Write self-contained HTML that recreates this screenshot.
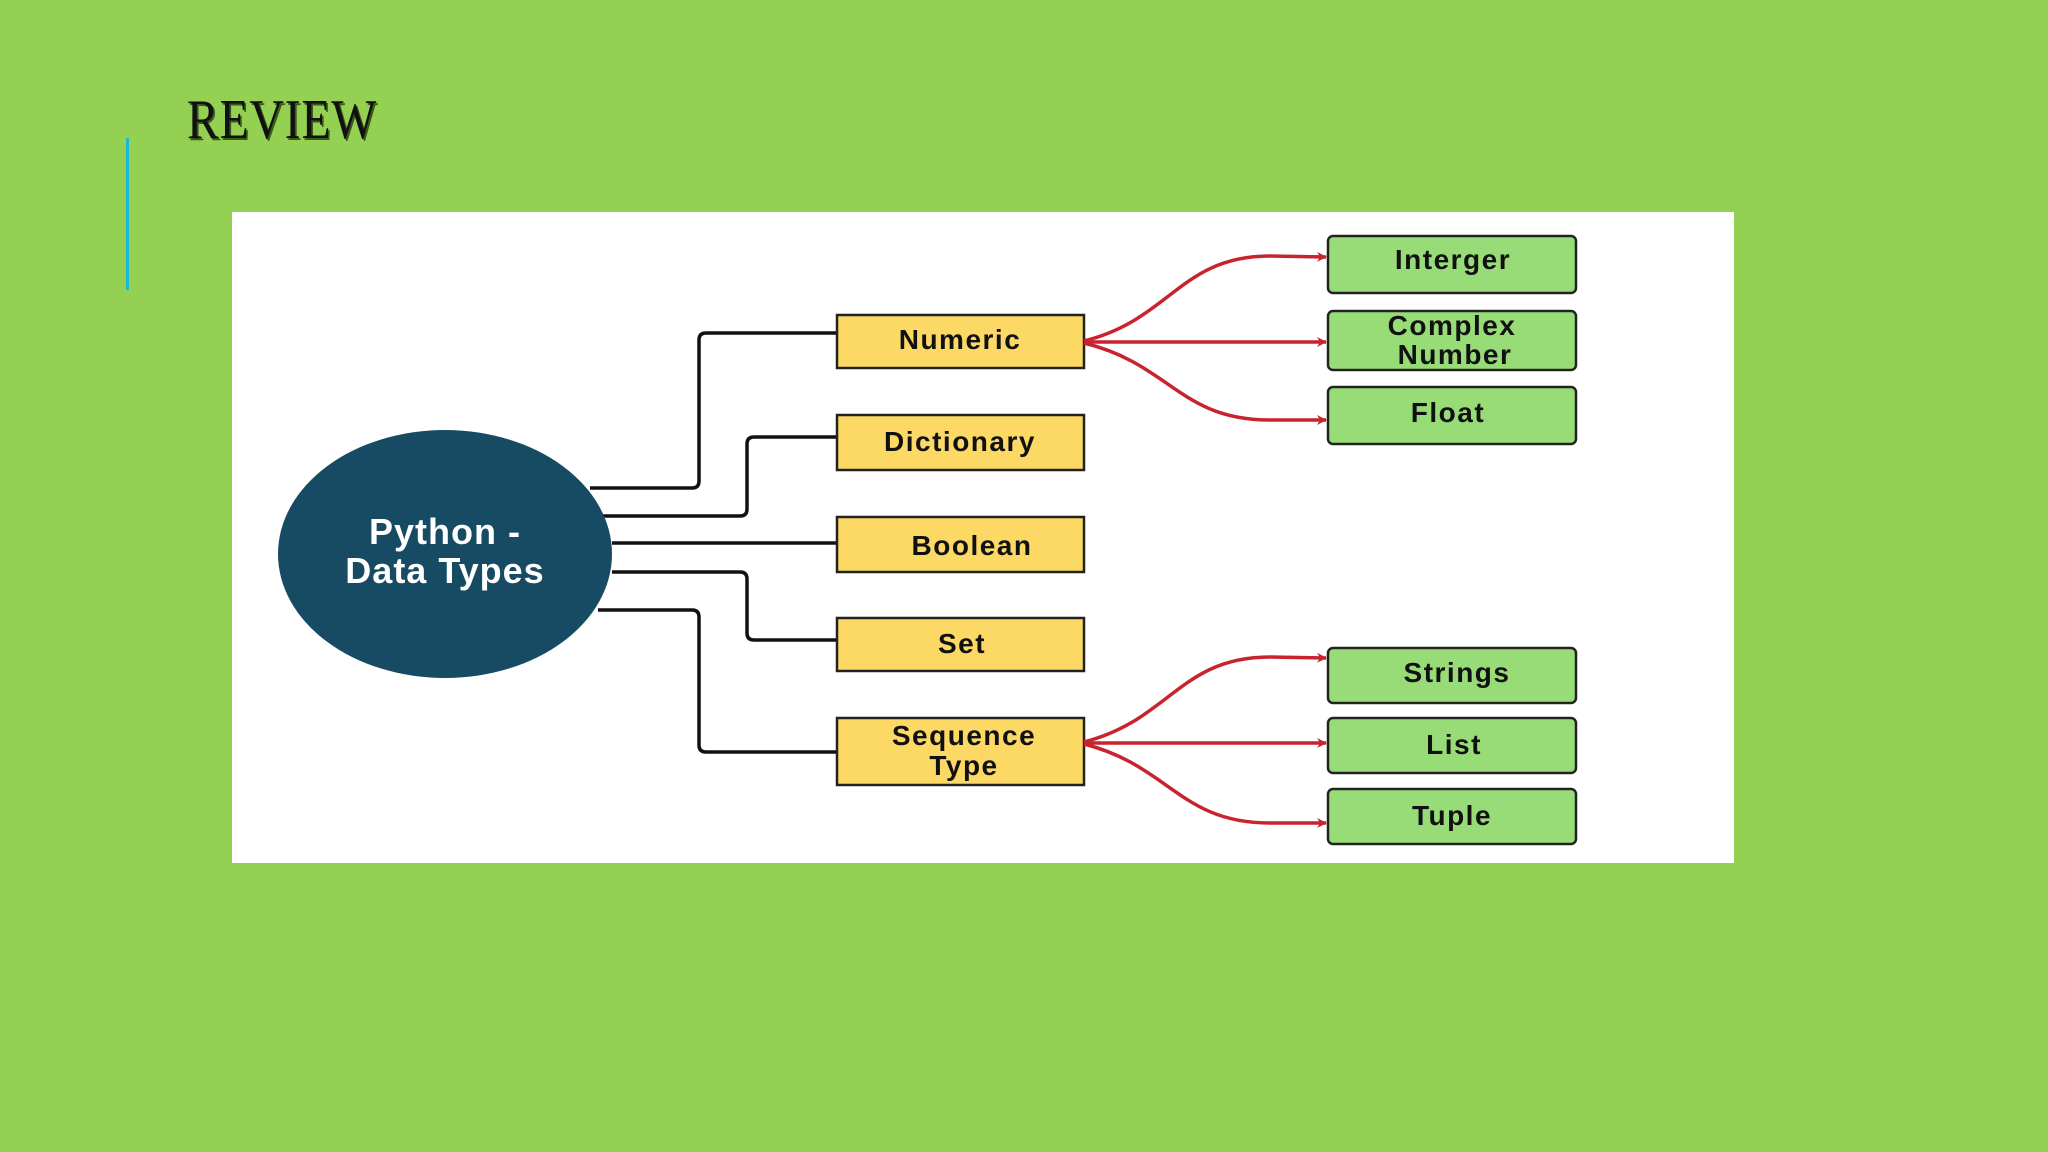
<!DOCTYPE html>
<html><head><meta charset="utf-8"><style>
html,body{margin:0;padding:0}
body{width:2048px;height:1152px;background:#94d052;position:relative;overflow:hidden;font-family:"Liberation Sans",sans-serif}
.title{position:absolute;left:187px;top:88px;font-family:"Liberation Serif",serif;font-size:56px;color:#111;letter-spacing:1px;transform:scaleX(0.85);transform-origin:left top;text-shadow:2px 2px 0 #3a5a1a}
.bar{position:absolute;left:126px;top:138px;width:3px;height:152px;background:#1fb5d6}
.panel{position:absolute;left:232px;top:212px;width:1502px;height:651px;background:#fff}
svg{position:absolute;left:0;top:0}
</style></head><body>
<div class="title">REVIEW</div>
<div class="bar"></div>
<div class="panel"></div>
<svg width="2048" height="1152" viewBox="0 0 2048 1152">
<defs><marker id="a" markerWidth="10" markerHeight="10" refX="9" refY="5" orient="auto" markerUnits="userSpaceOnUse" viewBox="0 0 10 10"><path d="M0,0 L10,5 L0,10 L3,5 Z" fill="#c8242f"/></marker></defs>
<g fill="none" stroke="#111" stroke-width="3.5">
<path d="M590,488 H692 Q699,488 699,481 V340 Q699,333 706,333 H837"/>
<path d="M600,516 H740 Q747,516 747,509 V444 Q747,437 754,437 H837"/>
<path d="M612,543 H837"/>
<path d="M612,572 H740 Q747,572 747,579 V633 Q747,640 754,640 H837"/>
<path d="M598,610 H692 Q699,610 699,617 V745 Q699,752 706,752 H837"/>
</g>
<ellipse cx="445" cy="554" rx="167" ry="124" fill="#174b63"/>
<g font-family="Liberation Sans,sans-serif" font-weight="bold" fill="#fff" font-size="36" text-anchor="middle" letter-spacing="1">
<text x="445" y="544">Python -</text><text x="445" y="583">Data Types</text></g>
<g fill="#fcd964" stroke="#222" stroke-width="2.5">
<rect x="837" y="315" width="247" height="53"/>
<rect x="837" y="415" width="247" height="55"/>
<rect x="837" y="517" width="247" height="55"/>
<rect x="837" y="618" width="247" height="53"/>
<rect x="837" y="718" width="247" height="67"/>
</g>
<g fill="#98dc78" stroke="#222" stroke-width="2.5">
<rect x="1328" y="236" width="248" height="57" rx="5"/>
<rect x="1328" y="311" width="248" height="59" rx="5"/>
<rect x="1328" y="387" width="248" height="57" rx="5"/>
<rect x="1328" y="648" width="248" height="55" rx="5"/>
<rect x="1328" y="718" width="248" height="55" rx="5"/>
<rect x="1328" y="789" width="248" height="55" rx="5"/>
</g>
<g fill="none" stroke="#c8242f" stroke-width="3.5" marker-end="url(#a)">
<path d="M1084,341 C1170,320 1180,256 1270,256 L1326,257"/>
<path d="M1084,342 L1326,342"/>
<path d="M1084,343 C1170,364 1180,420 1270,420 L1326,420"/>
<path d="M1084,742 C1170,720 1180,657 1270,657 L1326,658"/>
<path d="M1084,743 L1326,743"/>
<path d="M1084,744 C1170,766 1180,823 1270,823 L1326,823"/>
</g>
<g font-family="Liberation Sans,sans-serif" font-weight="bold" fill="#111" font-size="28" text-anchor="middle" letter-spacing="1.5">
<text x="960" y="349">Numeric</text>
<text x="960" y="451">Dictionary</text>
<text x="972" y="555">Boolean</text>
<text x="962" y="653">Set</text>
<text x="964" y="745">Sequence</text>
<text x="964" y="775">Type</text>
<text x="1453" y="269">Interger</text>
<text x="1452" y="335">Complex</text>
<text x="1455" y="364">Number</text>
<text x="1448" y="422">Float</text>
<text x="1457" y="682">Strings</text>
<text x="1454" y="754">List</text>
<text x="1452" y="825">Tuple</text>
</g>
</svg>
</body></html>
